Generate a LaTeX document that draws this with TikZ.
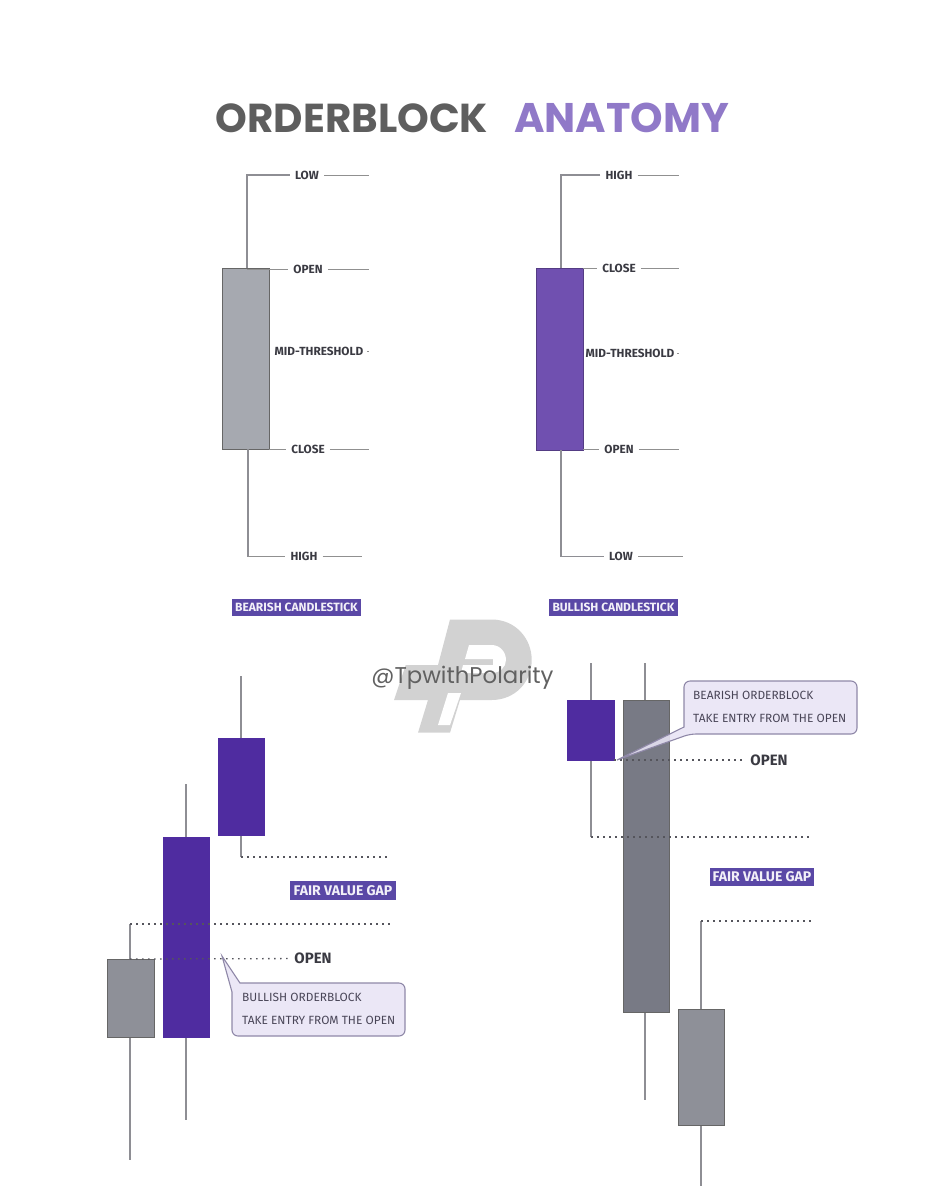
\documentclass[tikz,border=0pt]{standalone}
\usepackage{fontspec}
\setmainfont{Fira Sans}
\newfontfamily\titlefont{Poppins}
\definecolor{wickgray}{HTML}{8E8E94}
\definecolor{lineink}{HTML}{909090}
\definecolor{labelink}{HTML}{3A3A42}
\definecolor{dotink}{HTML}{55555C}
\definecolor{greyA}{HTML}{A6A9B0}
\definecolor{greyB}{HTML}{8E9098}
\definecolor{greyC}{HTML}{787A85}
\definecolor{purpA}{HTML}{7050B0}
\definecolor{purpB}{HTML}{4F2CA0}
\definecolor{tagfill}{HTML}{5A48A6}
\definecolor{callfill}{HTML}{E8E4F5}
\definecolor{callline}{HTML}{8F88A8}
\definecolor{callink}{HTML}{4A4658}
\definecolor{logogray}{HTML}{D2D2D2}
\definecolor{titlepurp}{HTML}{9079C8}
\begin{document}
\begin{tikzpicture}[x=1pt, y=-1pt, auto]
    \useasboundingbox (0,0) rectangle (926,1200);

    % Define styles
    \tikzstyle{candle}=[rectangle, draw=black!60, line width=0.8pt, inner sep=0pt, outer sep=0pt, anchor=north west]
    \tikzstyle{wick}=[draw=wickgray, line width=1.2pt]
    \tikzstyle{guide}=[draw=lineink, line width=1pt]
    \tikzstyle{gap}=[draw=dotink, line width=1.3pt, dash pattern=on 1.6pt off 4.4pt]
    \tikzstyle{lbl}=[text=labelink, font=\fontsize{11.8}{13}\selectfont\bfseries, inner sep=5pt]
    \tikzstyle{lblbig}=[text=labelink, font=\fontsize{15}{17}\selectfont\bfseries, inner sep=5pt]
    \tikzstyle{tag}=[fill=tagfill, text=white!92!tagfill, font=\fontsize{12}{14}\selectfont\bfseries, inner sep=0pt, minimum height=17pt, minimum width=129pt]
    \tikzstyle{fvg}=[tag, font=\fontsize{14}{16}\selectfont\bfseries, minimum height=19pt, minimum width=106pt]
    \tikzstyle{call}=[draw=callline, fill=callfill, line width=1.1pt, fill opacity=0.88]
    \tikzstyle{calltxt}=[text=callink, font=\fontsize{11.9}{23}\selectfont, align=left, inner sep=0pt, anchor=west]

    % Title
    \node[text=black!63, font=\titlefont\bfseries\fontsize{40.4}{45}\selectfont] (titleA) at (352,118) {ORDERBLOCK};
    \node[text=titlepurp, font=\titlefont\bfseries\fontsize{41.4}{45}\selectfont] (titleB) at (621.5,118) {ANATOMY};

    % Bearish candle, top left
    \node[candle, fill=greyA, minimum width=46.5pt, minimum height=181pt] (bear) at (222.5,268) {};
    \coordinate (bearTop) at (247,175);
    \coordinate (bearBot) at (248,556.5);
    \node[lbl] (bearLow) at (307,175) {LOW};
    \node[lbl] (bearOpen) at (308,269.5) {OPEN};
    \node[lbl] (bearMid) at (319,351) {MID-THRESHOLD};
    \node[lbl] (bearClose) at (308,449.5) {CLOSE};
    \node[lbl] (bearHigh) at (304,556.5) {HIGH};
    \coordinate (bearEndA) at (369,175);
    \coordinate (bearEndB) at (369,269.5);
    \coordinate (bearEndC) at (369,351);
    \coordinate (bearEndD) at (369,449.5);
    \coordinate (bearEndE) at (362,556.5);
    \draw[wick] (bearLow) -- (bearTop) -- (bearTop |- bear.north);
    \draw[wick] (bearBot |- bear.south) -- (bearBot);
    \draw[guide] (bearBot) -- (bearHigh);
    \draw[guide] (bearLow) -- (bearEndA);
    \draw[guide] (247,269.5) -- (bearOpen);
    \draw[guide] (bearOpen) -- (bearEndB);
    \draw[guide] (367,351) -- (bearEndC);
    \draw[guide] (bear.south east |- bearClose) -- (bearClose);
    \draw[guide] (bearClose) -- (bearEndD);
    \draw[guide] (bearHigh) -- (bearEndE);

    % Bullish candle, top right
    \node[candle, fill=purpA, draw=purpA!75!black, minimum width=46.5pt, minimum height=182pt] (bull) at (536.5,268) {};
    \coordinate (bullTop) at (561,175);
    \coordinate (bullBot) at (561,556.5);
    \node[lbl] (bullHigh) at (619,175) {HIGH};
    \node[lbl] (bullClose) at (619,268.5) {CLOSE};
    \node[lbl] (bullMid) at (630,353) {MID-THRESHOLD};
    \node[lbl] (bullOpen) at (619,449.5) {OPEN};
    \node[lbl] (bullLow) at (621,556.5) {LOW};
    \coordinate (bullEndA) at (679,175);
    \coordinate (bullEndB) at (679,268.5);
    \coordinate (bullEndC) at (679,353);
    \coordinate (bullEndD) at (679,449.5);
    \coordinate (bullEndE) at (683,556.5);
    \draw[wick] (bullHigh) -- (bullTop) -- (bullTop |- bull.north);
    \draw[wick] (bullBot |- bull.south) -- (bullBot) -- (bullLow);
    \draw[guide] (bullHigh) -- (bullEndA);
    \draw[guide] (bull.north east |- bullClose) -- (bullClose);
    \draw[guide] (bullClose) -- (bullEndB);
    \draw[guide] (677,353) -- (bullEndC);
    \draw[guide] (bull.south east |- bullOpen) -- (bullOpen);
    \draw[guide] (bullOpen) -- (bullEndD);
    \draw[guide] (bullLow) -- (bullEndE);

    \node[tag] (bearTag) at (296.5,607.5) {BEARISH CANDLESTICK};
    \node[tag] (bullTag) at (613.5,607.5) {BULLISH CANDLESTICK};

    % Watermark
    \fill[logogray] (450,619.5) -- (491.7,619.5) .. controls (515,619.5) and (531.7,638) .. (531.7,660) .. controls (531.7,682) and (515,700) .. (491.7,700) -- (460,700) -- (450,732.7) -- (418,732.7) -- (428,700) -- (394,700) -- (405.7,665) -- (438,665) -- cycle;
    \fill[white] (469,645) -- (491.7,645) .. controls (500,645) and (506,652) .. (506,660) .. controls (506,667) and (500,673) .. (491.7,673) -- (461,673) -- (463,665) -- (493,665) -- (493,659) -- (465,659) -- cycle;
    \fill[white] (448,693) -- (461,693) -- (450,725) -- (438,725) -- cycle;
    \node[text=black!62, font=\titlefont\fontsize{22.8}{26}\selectfont] (mark) at (462.5,677.5) {@TpwithPolarity};

    % Lower left group
    \coordinate (llTopA) at (130,924);
    \coordinate (llBotA) at (130,1160);
    \coordinate (llTopB) at (186,784);
    \coordinate (llBotB) at (186,1120);
    \coordinate (llTopC) at (241,676);
    \coordinate (llBotC) at (241,857);
    \coordinate (llEndA) at (390,857);
    \coordinate (llEndB) at (392,924);
    \coordinate (llOpenA) at (130,959);
    \node[lblbig] (llOpen) at (313,958.5) {OPEN};
    \draw[wick] (llTopA) -- (llBotA);
    \draw[wick] (llTopB) -- (llBotB);
    \draw[wick] (llTopC) -- (llBotC);
    \node[candle, fill=greyB, minimum width=46.5pt, minimum height=78pt] (llGrey) at (107.5,959) {};
    \node[candle, fill=purpB, draw=purpB, minimum width=45.5pt, minimum height=200pt] (llBig) at (163.5,837) {};
    \node[candle, fill=purpB, draw=purpB, minimum width=45.5pt, minimum height=97pt] (llSmall) at (218.5,738) {};
    \draw[gap] (llBotC) -- (llEndA);
    \draw[gap] (llTopA) -- (llEndB);
    \draw[gap] (llOpenA) -- (llOpen);
    \node[fvg] (llFvg) at (343,890.5) {FAIR VALUE GAP};
    \coordinate (llTip) at (222,956);
    \draw[call] (llTip) -- (240,983) [rounded corners=6pt] -- (405,983) -- (405,1036) -- (232,1036) [sharp corners] -- (232,992) -- cycle;
    \node[calltxt] (llNote) at (242,1008.5) {BULLISH ORDERBLOCK\\TAKE ENTRY FROM THE OPEN};

    % Lower right group
    \coordinate (lrTopA) at (591,663);
    \coordinate (lrBotA) at (591,837);
    \coordinate (lrTopB) at (645,663);
    \coordinate (lrBotB) at (645,1100);
    \coordinate (lrTopC) at (701,921);
    \coordinate (lrBotC) at (701,1186);
    \coordinate (lrEndA) at (812,837);
    \coordinate (lrEndB) at (812,921);
    \node[lblbig] (lrOpen) at (769,760) {OPEN};
    \draw[wick] (lrTopA) -- (lrBotA);
    \draw[wick] (lrTopB) -- (lrBotB);
    \draw[wick] (lrTopC) -- (lrBotC);
    \node[candle, fill=purpB, draw=purpB, minimum width=46.5pt, minimum height=60pt] (lrSmall) at (567.5,700) {};
    \node[candle, fill=greyC, minimum width=45.5pt, minimum height=312pt] (lrBig) at (623.5,700) {};
    \node[candle, fill=greyB, minimum width=45.5pt, minimum height=116pt] (lrGrey) at (678.5,1009) {};
    \draw[gap] (lrBotA) -- (lrEndA);
    \draw[gap] (lrTopC) -- (lrEndB);
    \draw[gap] (lrSmall.south east) -- (lrOpen);
    \node[fvg, minimum width=104pt, minimum height=18pt] (lrFvg) at (762,877) {FAIR VALUE GAP};
    \coordinate (lrTip) at (617,760);
    \draw[call] (lrTip) -- (684,727) [rounded corners=6pt] -- (684,681) -- (857,681) -- (857,734) -- (690,734) [sharp corners] -- cycle;
    \node[calltxt] (lrNote) at (693,706.5) {BEARISH ORDERBLOCK\\TAKE ENTRY FROM THE OPEN};
\end{tikzpicture}
\end{document}
